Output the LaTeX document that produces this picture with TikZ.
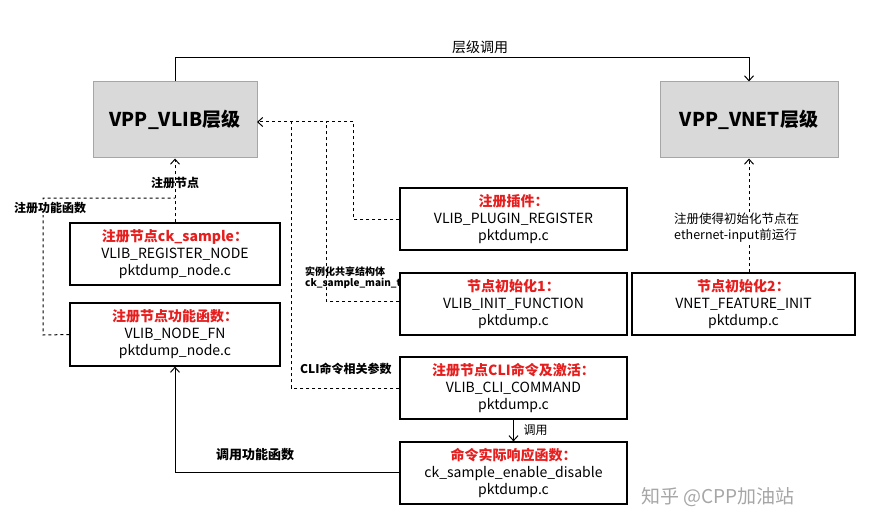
\documentclass[tikz,border=0pt]{standalone}
\usepackage{fontspec}
\setmainfont{Noto Sans CJK SC}
\usetikzlibrary{arrows.meta}
\definecolor{tred}{RGB}{230,30,30}
\begin{document}
\begin{tikzpicture}[x=1pt,y=-1pt,
 box/.style={draw,line width=1.2pt,align=center,inner sep=0pt,font=\fontsize{14}{17}\selectfont},
 big/.style={draw=gray!70,fill=gray!30,line width=1pt,font=\fontsize{19}{21}\selectfont\bfseries},
 dl/.style={dashed,line width=1pt},
 sl/.style={line width=1pt},
 ar/.style={-{Straight Barb[length=5pt,width=9pt]}},
 lab/.style={font=\fontsize{12}{14}\selectfont\bfseries,inner sep=1pt},
 ttl/.style={text=tred,font=\bfseries}]
\useasboundingbox (0,0) rectangle (870,532);
\node[big,minimum width=164pt,minimum height=76pt] (vlib) at (175,120) {VPP\_VLIB层级};
\node[big,minimum width=178pt,minimum height=76pt] (vnet) at (749,120) {VPP\_VNET层级};
\node[box,minimum width=210pt,minimum height=62pt] (cks) at (175,254) {\textcolor{tred}{\bfseries 注册节点ck\_sample：}\\VLIB\_REGISTER\_NODE\\pktdump\_node.c};
\node[box,minimum width=210pt,minimum height=63pt] (fn) at (175,334.5) {\textcolor{tred}{\bfseries 注册节点功能函数：}\\VLIB\_NODE\_FN\\pktdump\_node.c};
\node[box,minimum width=227pt,minimum height=62pt] (plug) at (513.5,219) {\textcolor{tred}{\bfseries 注册插件：}\\VLIB\_PLUGIN\_REGISTER\\pktdump.c};
\node[box,minimum width=227pt,minimum height=62pt] (init1) at (513.5,304) {\textcolor{tred}{\bfseries 节点初始化1：}\\VLIB\_INIT\_FUNCTION\\pktdump.c};
\node[box,minimum width=227pt,minimum height=62pt] (cli) at (513.5,388) {\textcolor{tred}{\bfseries 注册节点CLI命令及激活：}\\VLIB\_CLI\_COMMAND\\pktdump.c};
\node[box,minimum width=227pt,minimum height=62pt] (resp) at (513.5,473) {\textcolor{tred}{\bfseries 命令实际响应函数：}\\ck\_sample\_enable\_disable\\pktdump.c};
\node[box,minimum width=223pt,minimum height=62pt] (init2) at (743.5,304) {\textcolor{tred}{\bfseries 节点初始化2：}\\VNET\_FEATURE\_INIT\\pktdump.c};
% top arrow
\coordinate (t1) at (175,58); \coordinate (t2) at (749,58);
\draw[sl,ar] (vlib.north) -- (t1) -- (t2) -- (vnet.north);
\node[font=\fontsize{14}{16}\selectfont] (lt) at (480,47) {层级调用};
% register node
\draw[dl,ar] (cks.north) -- (vlib.south);
\node[lab] (lrn) at (175,183) {注册节点};
\coordinate (f1) at (43,335); \coordinate (f2) at (43,198); \coordinate (f3) at (175,198);
\draw[dl] (fn.west) -- (f1) -- (f2) -- (f3);
\node[lab,fill=white] (lfn) at (50,208) {注册功能函数};
% right dashed to vlib
\coordinate (p1) at (353,219); \coordinate (p2) at (353,122);
\coordinate (i1) at (326,301); \coordinate (i2) at (326,122);
\coordinate (c1) at (291,388); \coordinate (c2) at (291,122);
\coordinate (v) at (257,122);
\draw[dl] (plug.west) -- (p1) -- (p2);
\draw[dl] (init1.west |- i1) -- (i1) -- (i2);
\draw[dl] (cli.west |- c1) -- (c1) -- (c2);
\draw[dl,ar] (p2) -- (v);
\node[font=\fontsize{10}{11}\selectfont\bfseries,align=left,anchor=west,inner sep=0pt] (lsh) at (305,278) {实例化共享结构体\\ck\_sample\_main\_t};
\node[lab,anchor=west] (lcli) at (299,369) {CLI命令相关参数};
% call
\draw[sl,ar] (cli.south) -- (resp.north);
\node[font=\fontsize{12}{14}\selectfont,anchor=west] (lcall) at (520,430) {调用};
\coordinate (r1) at (175,472);
\draw[sl,ar] (resp.west |- r1) -- (r1) -- (fn.south);
\node[lab,font=\fontsize{13}{15}\selectfont\bfseries] (lcf) at (255,455) {调用功能函数};
% init2
\draw[dl,ar] (init2.north -| vnet.south) -- (vnet.south);
\node[font=\fontsize{12.5}{16}\selectfont,align=left,anchor=west,fill=white,inner sep=1pt] (l2) at (673,228) {注册使得初始化节点在\\ethernet-input前运行};
\node[text=gray!70,font=\fontsize{19}{21}\selectfont,anchor=west] (wm) at (638,497) {知乎 @CPP加油站};
\end{tikzpicture}
\end{document}
